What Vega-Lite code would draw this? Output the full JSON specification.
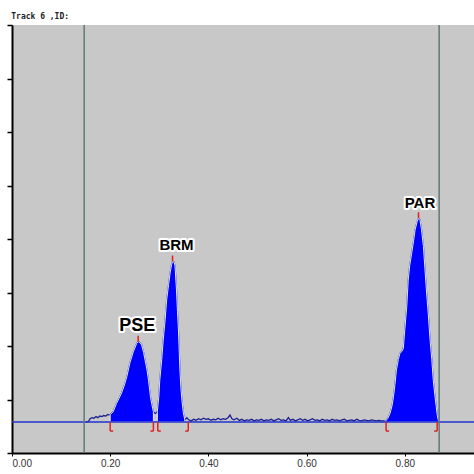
{
  "$schema": "https://vega.github.io/schema/vega-lite/v6.json",
  "width": 462,
  "height": 428,
  "autosize": {"type": "none"},
  "padding": {"left": 12, "top": 25, "right": 0, "bottom": 21},
  "background": "white",
  "title": {"text": "Track 6 ,ID:", "anchor": "start", "fontSize": 8, "fontWeight": "bold", "font": "DejaVu Sans Mono", "color": "#222222", "offset": 3, "dx": 5},
  "config": {"view": {"fill": "#c8c8c8", "stroke": null}},
  "datasets": {
    "trace": [
      {"x": 0.150, "y": 0.58, "p": "none"}, {"x": 0.156, "y": 0.59, "p": "none"}, {"x": 0.159, "y": 0.64, "p": "none"},
      {"x": 0.163, "y": 0.66, "p": "none"}, {"x": 0.167, "y": 0.65, "p": "none"}, {"x": 0.171, "y": 0.68, "p": "none"},
      {"x": 0.175, "y": 0.66, "p": "none"}, {"x": 0.179, "y": 0.69, "p": "none"}, {"x": 0.183, "y": 0.68, "p": "none"},
      {"x": 0.187, "y": 0.70, "p": "none"}, {"x": 0.191, "y": 0.69, "p": "none"}, {"x": 0.195, "y": 0.72, "p": "none"},
      {"x": 0.198, "y": 0.71, "p": "none"},
      {"x": 0.200, "y": 0.72, "p": "PSE"}, {"x": 0.206, "y": 0.77, "p": "PSE"}, {"x": 0.213, "y": 0.93, "p": "PSE"},
      {"x": 0.218, "y": 1.02, "p": "PSE"}, {"x": 0.223, "y": 1.12, "p": "PSE"}, {"x": 0.229, "y": 1.27, "p": "PSE"},
      {"x": 0.234, "y": 1.43, "p": "PSE"}, {"x": 0.240, "y": 1.68, "p": "PSE"}, {"x": 0.247, "y": 1.89, "p": "PSE"},
      {"x": 0.254, "y": 2.05, "p": "PSE"}, {"x": 0.257, "y": 2.08, "p": "PSE"}, {"x": 0.260, "y": 2.07, "p": "PSE"},
      {"x": 0.264, "y": 2.02, "p": "PSE"}, {"x": 0.268, "y": 1.88, "p": "PSE"}, {"x": 0.271, "y": 1.74, "p": "PSE"},
      {"x": 0.275, "y": 1.55, "p": "PSE"}, {"x": 0.278, "y": 1.36, "p": "PSE"}, {"x": 0.282, "y": 1.05, "p": "PSE"},
      {"x": 0.285, "y": 0.90, "p": "PSE"}, {"x": 0.288, "y": 0.77, "p": "PSE"},
      {"x": 0.292, "y": 0.74, "p": "none"},
      {"x": 0.296, "y": 0.77, "p": "BRM"}, {"x": 0.299, "y": 1.05, "p": "BRM"}, {"x": 0.301, "y": 1.36, "p": "BRM"},
      {"x": 0.305, "y": 1.75, "p": "BRM"}, {"x": 0.308, "y": 2.11, "p": "BRM"}, {"x": 0.312, "y": 2.50, "p": "BRM"},
      {"x": 0.315, "y": 2.86, "p": "BRM"}, {"x": 0.319, "y": 3.15, "p": "BRM"}, {"x": 0.322, "y": 3.36, "p": "BRM"},
      {"x": 0.325, "y": 3.52, "p": "BRM"}, {"x": 0.327, "y": 3.58, "p": "BRM"}, {"x": 0.330, "y": 3.57, "p": "BRM"},
      {"x": 0.332, "y": 3.50, "p": "BRM"}, {"x": 0.335, "y": 3.05, "p": "BRM"}, {"x": 0.337, "y": 2.65, "p": "BRM"},
      {"x": 0.339, "y": 2.30, "p": "BRM"}, {"x": 0.342, "y": 1.55, "p": "BRM"}, {"x": 0.344, "y": 1.22, "p": "BRM"},
      {"x": 0.346, "y": 0.99, "p": "BRM"}, {"x": 0.349, "y": 0.75, "p": "BRM"}, {"x": 0.352, "y": 0.62, "p": "BRM"},
      {"x": 0.356, "y": 0.66, "p": "none"}, {"x": 0.360, "y": 0.62, "p": "none"}, {"x": 0.365, "y": 0.60, "p": "none"},
      {"x": 0.370, "y": 0.63, "p": "none"}, {"x": 0.375, "y": 0.61, "p": "none"}, {"x": 0.380, "y": 0.64, "p": "none"},
      {"x": 0.385, "y": 0.62, "p": "none"}, {"x": 0.390, "y": 0.65, "p": "none"}, {"x": 0.395, "y": 0.63, "p": "none"},
      {"x": 0.400, "y": 0.64, "p": "none"}, {"x": 0.405, "y": 0.61, "p": "none"}, {"x": 0.410, "y": 0.63, "p": "none"},
      {"x": 0.415, "y": 0.62, "p": "none"}, {"x": 0.420, "y": 0.65, "p": "none"}, {"x": 0.425, "y": 0.62, "p": "none"},
      {"x": 0.430, "y": 0.64, "p": "none"}, {"x": 0.435, "y": 0.63, "p": "none"}, {"x": 0.440, "y": 0.66, "p": "none"},
      {"x": 0.444, "y": 0.71, "p": "none"}, {"x": 0.448, "y": 0.64, "p": "none"}, {"x": 0.452, "y": 0.62, "p": "none"},
      {"x": 0.458, "y": 0.65, "p": "none"}, {"x": 0.463, "y": 0.61, "p": "none"}, {"x": 0.468, "y": 0.63, "p": "none"},
      {"x": 0.473, "y": 0.60, "p": "none"}, {"x": 0.478, "y": 0.62, "p": "none"}, {"x": 0.483, "y": 0.61, "p": "none"},
      {"x": 0.488, "y": 0.63, "p": "none"}, {"x": 0.493, "y": 0.60, "p": "none"}, {"x": 0.498, "y": 0.62, "p": "none"},
      {"x": 0.503, "y": 0.61, "p": "none"}, {"x": 0.508, "y": 0.63, "p": "none"}, {"x": 0.513, "y": 0.60, "p": "none"},
      {"x": 0.518, "y": 0.62, "p": "none"}, {"x": 0.523, "y": 0.61, "p": "none"}, {"x": 0.528, "y": 0.63, "p": "none"},
      {"x": 0.533, "y": 0.60, "p": "none"}, {"x": 0.538, "y": 0.62, "p": "none"}, {"x": 0.543, "y": 0.64, "p": "none"},
      {"x": 0.548, "y": 0.61, "p": "none"}, {"x": 0.553, "y": 0.62, "p": "none"}, {"x": 0.558, "y": 0.60, "p": "none"},
      {"x": 0.563, "y": 0.66, "p": "none"}, {"x": 0.567, "y": 0.61, "p": "none"}, {"x": 0.572, "y": 0.63, "p": "none"},
      {"x": 0.577, "y": 0.60, "p": "none"}, {"x": 0.582, "y": 0.62, "p": "none"}, {"x": 0.587, "y": 0.64, "p": "none"},
      {"x": 0.592, "y": 0.61, "p": "none"}, {"x": 0.597, "y": 0.63, "p": "none"}, {"x": 0.602, "y": 0.60, "p": "none"},
      {"x": 0.607, "y": 0.62, "p": "none"}, {"x": 0.612, "y": 0.64, "p": "none"}, {"x": 0.617, "y": 0.61, "p": "none"},
      {"x": 0.622, "y": 0.62, "p": "none"}, {"x": 0.627, "y": 0.60, "p": "none"}, {"x": 0.632, "y": 0.63, "p": "none"},
      {"x": 0.637, "y": 0.61, "p": "none"}, {"x": 0.642, "y": 0.62, "p": "none"}, {"x": 0.647, "y": 0.60, "p": "none"},
      {"x": 0.652, "y": 0.63, "p": "none"}, {"x": 0.657, "y": 0.61, "p": "none"}, {"x": 0.662, "y": 0.62, "p": "none"},
      {"x": 0.667, "y": 0.60, "p": "none"}, {"x": 0.672, "y": 0.62, "p": "none"}, {"x": 0.677, "y": 0.63, "p": "none"},
      {"x": 0.682, "y": 0.60, "p": "none"}, {"x": 0.687, "y": 0.61, "p": "none"}, {"x": 0.692, "y": 0.62, "p": "none"},
      {"x": 0.697, "y": 0.60, "p": "none"}, {"x": 0.702, "y": 0.63, "p": "none"}, {"x": 0.707, "y": 0.61, "p": "none"},
      {"x": 0.712, "y": 0.60, "p": "none"}, {"x": 0.717, "y": 0.62, "p": "none"}, {"x": 0.722, "y": 0.61, "p": "none"},
      {"x": 0.727, "y": 0.60, "p": "none"}, {"x": 0.732, "y": 0.62, "p": "none"}, {"x": 0.737, "y": 0.61, "p": "none"},
      {"x": 0.742, "y": 0.60, "p": "none"}, {"x": 0.747, "y": 0.61, "p": "none"}, {"x": 0.752, "y": 0.60, "p": "none"},
      {"x": 0.757, "y": 0.60, "p": "none"},
      {"x": 0.760, "y": 0.59, "p": "PAR"}, {"x": 0.765, "y": 0.64, "p": "PAR"}, {"x": 0.770, "y": 0.74, "p": "PAR"},
      {"x": 0.774, "y": 0.88, "p": "PAR"}, {"x": 0.777, "y": 1.05, "p": "PAR"}, {"x": 0.780, "y": 1.28, "p": "PAR"},
      {"x": 0.783, "y": 1.55, "p": "PAR"}, {"x": 0.787, "y": 1.75, "p": "PAR"}, {"x": 0.790, "y": 1.86, "p": "PAR"},
      {"x": 0.794, "y": 1.90, "p": "PAR"}, {"x": 0.797, "y": 1.95, "p": "PAR"}, {"x": 0.800, "y": 2.30, "p": "PAR"},
      {"x": 0.804, "y": 2.73, "p": "PAR"}, {"x": 0.807, "y": 3.23, "p": "PAR"}, {"x": 0.810, "y": 3.50, "p": "PAR"},
      {"x": 0.814, "y": 3.73, "p": "PAR"}, {"x": 0.818, "y": 3.97, "p": "PAR"}, {"x": 0.821, "y": 4.17, "p": "PAR"},
      {"x": 0.825, "y": 4.32, "p": "PAR"}, {"x": 0.828, "y": 4.39, "p": "PAR"}, {"x": 0.831, "y": 4.36, "p": "PAR"},
      {"x": 0.834, "y": 4.18, "p": "PAR"}, {"x": 0.838, "y": 3.86, "p": "PAR"}, {"x": 0.841, "y": 3.45, "p": "PAR"},
      {"x": 0.844, "y": 3.05, "p": "PAR"}, {"x": 0.848, "y": 2.58, "p": "PAR"}, {"x": 0.851, "y": 2.17, "p": "PAR"},
      {"x": 0.855, "y": 1.75, "p": "PAR"}, {"x": 0.858, "y": 1.36, "p": "PAR"}, {"x": 0.861, "y": 1.10, "p": "PAR"},
      {"x": 0.864, "y": 0.87, "p": "PAR"}, {"x": 0.866, "y": 0.72, "p": "PAR"}, {"x": 0.868, "y": 0.62, "p": "PAR"},
      {"x": 0.870, "y": 0.58, "p": "PAR"}
    ],
    "marks": [
      {"x": 0.200, "y": 0.58, "x2": 0.200, "y2": 0.41},
      {"x": 0.200, "y": 0.41, "x2": 0.206, "y2": 0.41},
      {"x": 0.288, "y": 0.58, "x2": 0.288, "y2": 0.41},
      {"x": 0.288, "y": 0.41, "x2": 0.282, "y2": 0.41},
      {"x": 0.297, "y": 0.58, "x2": 0.297, "y2": 0.41},
      {"x": 0.297, "y": 0.41, "x2": 0.303, "y2": 0.41},
      {"x": 0.359, "y": 0.58, "x2": 0.359, "y2": 0.41},
      {"x": 0.359, "y": 0.41, "x2": 0.353, "y2": 0.41},
      {"x": 0.762, "y": 0.58, "x2": 0.762, "y2": 0.41},
      {"x": 0.762, "y": 0.41, "x2": 0.768, "y2": 0.41},
      {"x": 0.866, "y": 0.58, "x2": 0.866, "y2": 0.41},
      {"x": 0.866, "y": 0.41, "x2": 0.860, "y2": 0.41},
      {"x": 0.257, "y": 2.08, "x2": 0.257, "y2": 2.19},
      {"x": 0.327, "y": 3.58, "x2": 0.327, "y2": 3.69},
      {"x": 0.828, "y": 4.39, "x2": 0.828, "y2": 4.50}
    ],
    "labels": [
      {"x": 0.255, "y": 2.37, "t": "PSE"},
      {"x": 0.335, "y": 3.89, "t": "BRM"},
      {"x": 0.831, "y": 4.67, "t": "PAR"}
    ],
    "vlines": [{"x": 0.147}, {"x": 0.870}]
  },
  "layer": [
    {
      "data": {"name": "trace"},
      "mark": {"type": "line", "color": "#1c2090", "strokeWidth": 1.3},
      "encoding": {
        "x": {"field": "x", "type": "quantitative", "scale": {"domain": [0, 0.941], "nice": false, "zero": false},
          "axis": {"values": [0, 0.2, 0.4, 0.6, 0.8], "format": ".2f", "title": null, "grid": false, "labelFontSize": 10, "labelFont": "Liberation Sans", "labelColor": "#333333", "tickSize": 3, "tickColor": "#000000", "domainColor": "#000000", "domainWidth": 2, "labelPadding": 2}},
        "y": {"field": "y", "type": "quantitative", "scale": {"domain": [0, 8], "nice": false},
          "axis": {"values": [0, 1, 2, 3, 4, 5, 6, 7, 8], "labels": false, "title": null, "grid": false, "tickSize": 5, "tickColor": "#000000", "tickWidth": 1.5, "domainColor": "#000000", "domainWidth": 2}}
      }
    },
    {
      "data": {"name": "trace"},
      "transform": [{"filter": "datum.p != 'none'"}],
      "mark": {"type": "area", "color": "#0000ff", "stroke": "#e0e6ff", "strokeWidth": 1},
      "encoding": {
        "x": {"field": "x", "type": "quantitative"},
        "y": {"field": "y", "type": "quantitative"},
        "y2": {"datum": 0.58},
        "detail": {"field": "p"}
      }
    },
    {
      "data": {"values": [{"b": 0.58}]},
      "mark": {"type": "rule", "color": "#2233cc", "strokeWidth": 1.5},
      "encoding": {"y": {"field": "b", "type": "quantitative"}}
    },
    {
      "data": {"name": "vlines"},
      "mark": {"type": "rule", "color": "#5e7a78", "strokeWidth": 1.5},
      "encoding": {"x": {"field": "x", "type": "quantitative"}}
    },
    {
      "data": {"name": "marks"},
      "mark": {"type": "rule", "color": "#e02020", "strokeWidth": 1.5},
      "encoding": {
        "x": {"field": "x", "type": "quantitative"},
        "y": {"field": "y", "type": "quantitative"},
        "x2": {"field": "x2"},
        "y2": {"field": "y2"}
      }
    },
    {
      "data": {"name": "labels"},
      "transform": [{"filter": "datum.t == 'PSE'"}],
      "mark": {"type": "text", "font": "Liberation Sans", "fontWeight": "bold", "fontSize": 18, "stroke": "white", "strokeWidth": 4, "strokeJoin": "round", "fill": "white"},
      "encoding": {"x": {"field": "x", "type": "quantitative"}, "y": {"field": "y", "type": "quantitative"}, "text": {"field": "t"}}
    },
    {
      "data": {"name": "labels"},
      "transform": [{"filter": "datum.t == 'PSE'"}],
      "mark": {"type": "text", "font": "Liberation Sans", "fontWeight": "bold", "fontSize": 18, "color": "black"},
      "encoding": {"x": {"field": "x", "type": "quantitative"}, "y": {"field": "y", "type": "quantitative"}, "text": {"field": "t"}}
    },
    {
      "data": {"name": "labels"},
      "transform": [{"filter": "datum.t != 'PSE'"}],
      "mark": {"type": "text", "font": "Liberation Sans", "fontWeight": "bold", "fontSize": 15, "stroke": "white", "strokeWidth": 4, "strokeJoin": "round", "fill": "white"},
      "encoding": {"x": {"field": "x", "type": "quantitative"}, "y": {"field": "y", "type": "quantitative"}, "text": {"field": "t"}}
    },
    {
      "data": {"name": "labels"},
      "transform": [{"filter": "datum.t != 'PSE'"}],
      "mark": {"type": "text", "font": "Liberation Sans", "fontWeight": "bold", "fontSize": 15, "color": "black"},
      "encoding": {"x": {"field": "x", "type": "quantitative"}, "y": {"field": "y", "type": "quantitative"}, "text": {"field": "t"}}
    }
  ]
}
